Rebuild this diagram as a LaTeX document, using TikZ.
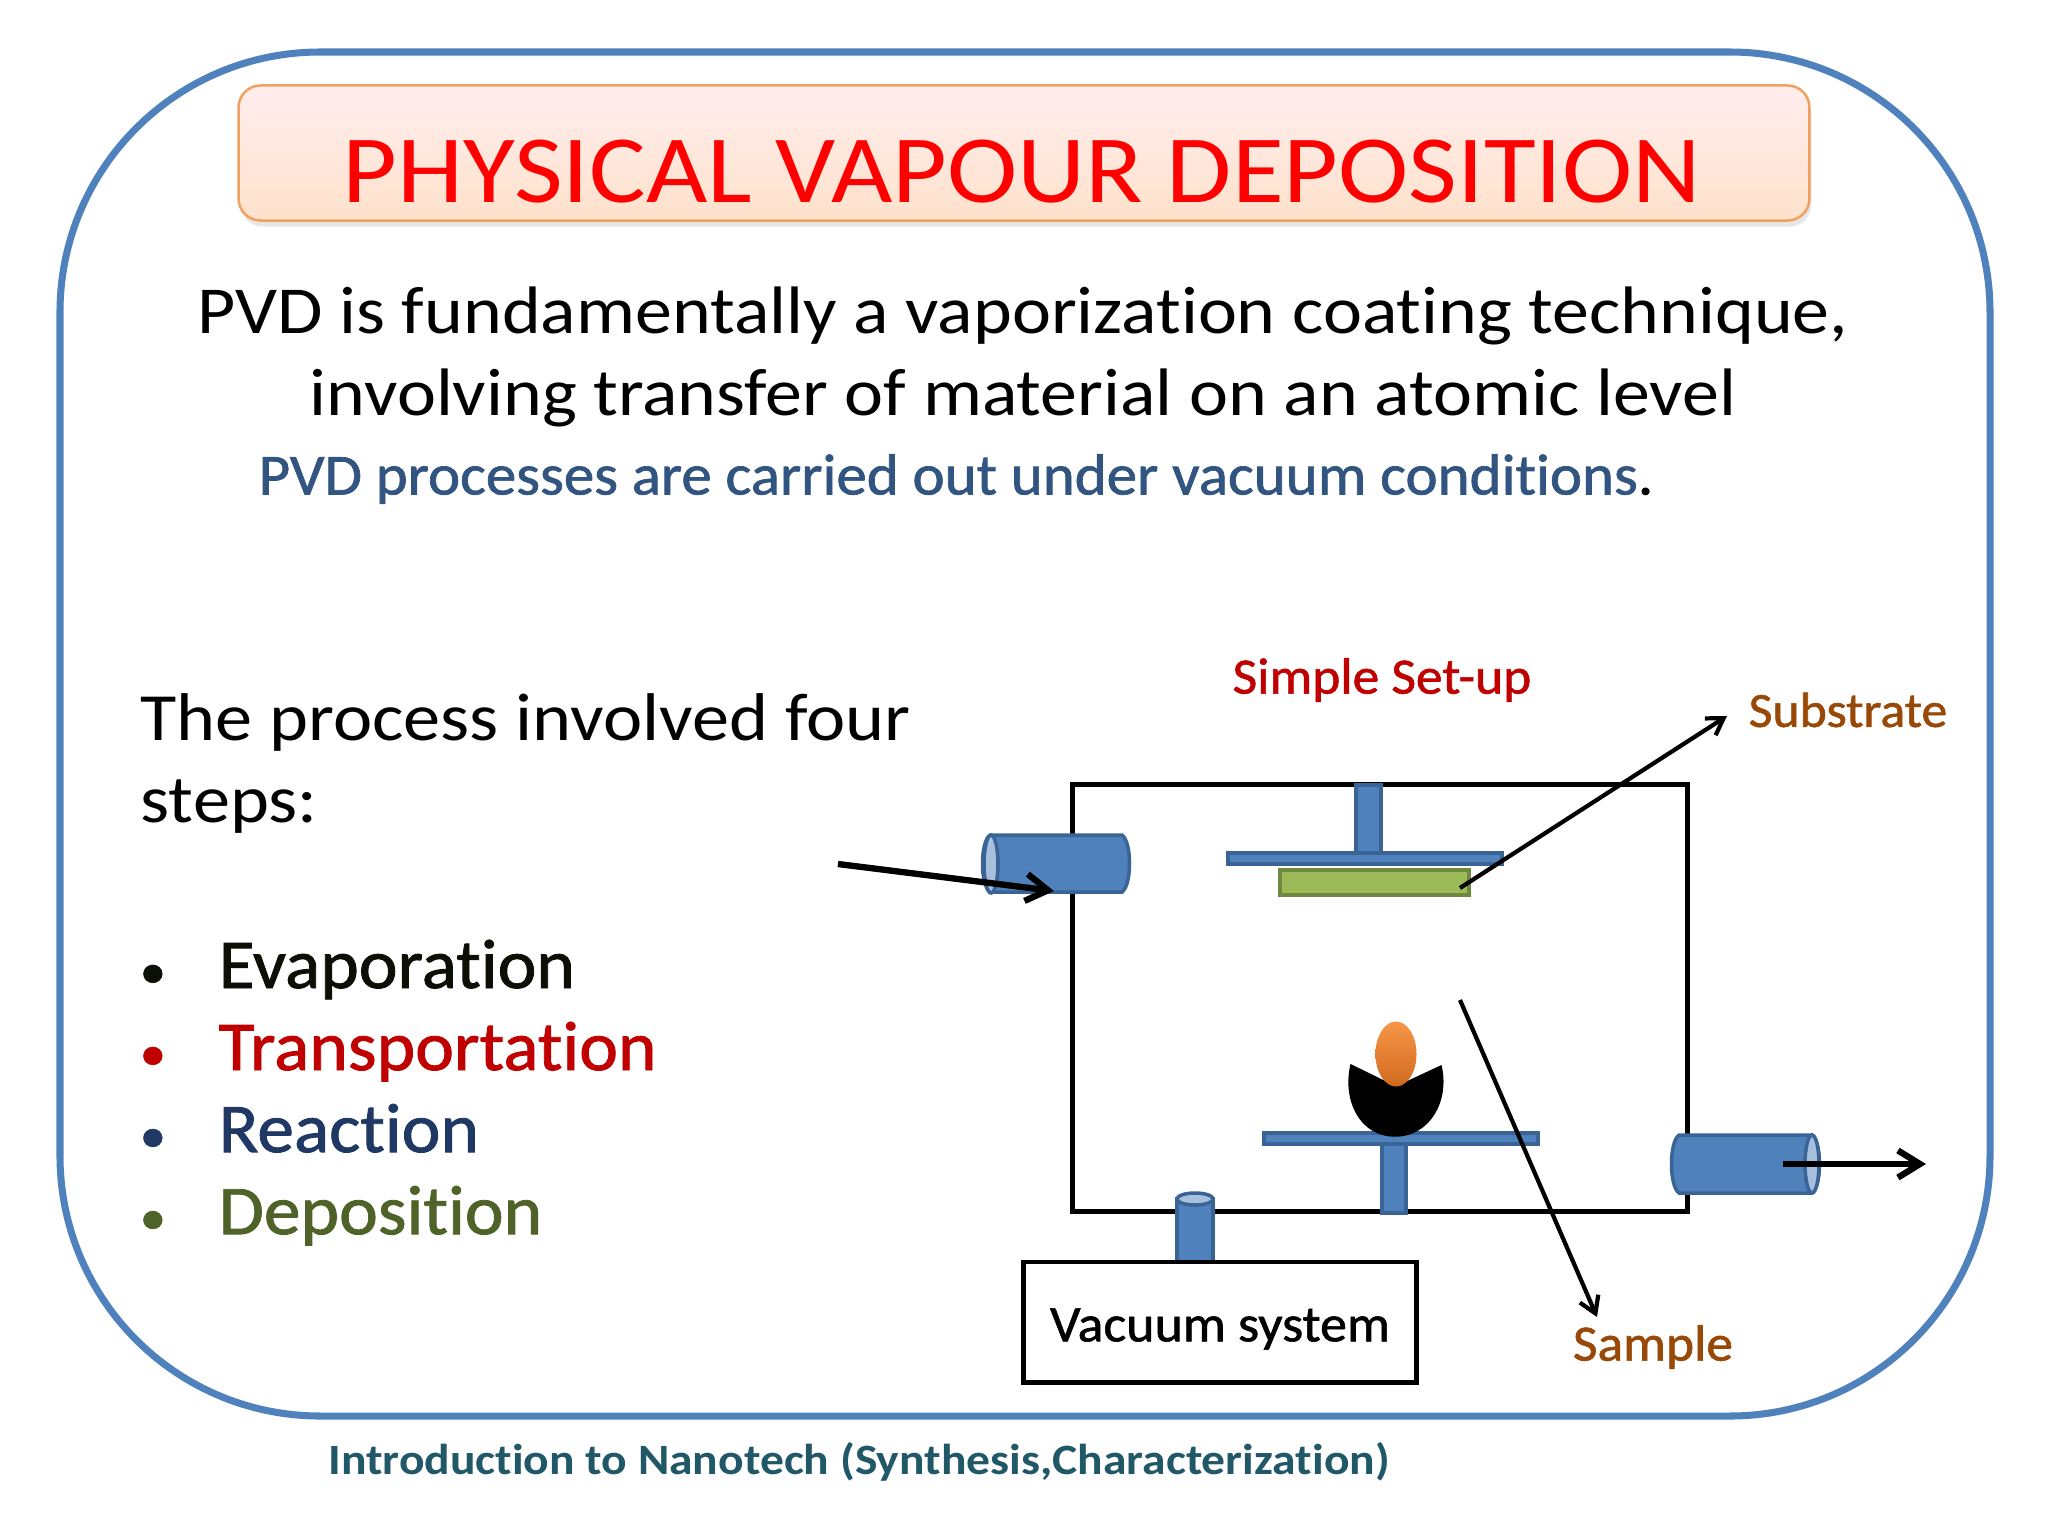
\documentclass[tikz,border=0pt]{standalone}
\usepackage{fontspec}
\setmainfont{Carlito}[FakeStretch=1.1,Ligatures=NoCommon]
\newfontfamily\heavyfont{Carlito}[FakeStretch=1.05,FakeBold=1.2,Ligatures=NoCommon]
\usepackage{graphicx}
\usetikzlibrary{shadows,arrows.meta,shapes.geometric}
\definecolor{frameblue}{HTML}{4F81BD}
\definecolor{edgeblue}{HTML}{3A6496}
\definecolor{lightend}{HTML}{A7C0DE}
\definecolor{leaf}{HTML}{9BBB59}
\definecolor{leafedge}{HTML}{71893F}
\definecolor{brownlabel}{HTML}{984807}
\definecolor{redlabel}{HTML}{C00000}
\definecolor{navy}{HTML}{1F3864}
\definecolor{olive}{HTML}{4F6228}
\definecolor{teal}{HTML}{215868}
\definecolor{flametop}{HTML}{F79646}
\definecolor{flamebottom}{HTML}{D0691F}
\definecolor{titleedge}{HTML}{F0A060}
\newcommand{\stepdot}{\makebox[0.79cm][l]{\scalebox{.72}{\textbullet}}}
\tikzset{
  plate/.style={fill=frameblue, draw=edgeblue, line width=1pt},
  thinarrow/.style={-{Straight Barb[length=1.6mm,width=2mm]}, line width=1.2pt},
  fatarrow/.style={-{Straight Barb[length=2.2mm,width=2.7mm]}, line width=1.8pt},
  steptext/.style={anchor=base west, inner sep=0pt, font=\heavyfont\fontsize{19.9}{24}\selectfont},
  partlabel/.style={inner sep=0pt, font=\heavyfont\fontsize{14.5}{17}\selectfont},
}
\begin{document}
\begin{tikzpicture}[x=0.01cm, y=-0.01cm]
\useasboundingbox (0,0) rectangle (2048,1536);
\draw[frameblue, line width=2pt, rounded corners=2.6cm] (60,52) rectangle (1990,1416);
\node[draw=titleedge, line width=0.7pt, rounded corners=0.22cm, top color=red!7, bottom color=red!15!orange!20,
  drop shadow={opacity=0.2, shadow xshift=0.2mm, shadow yshift=-0.6mm},
  minimum width=15.7cm, minimum height=1.35cm, inner sep=0pt] (title) at (1024,153) {};
\node[text=red, font=\fontsize{27.4}{30}\selectfont, inner sep=0pt] (titletext) at (1022,172) {PHYSICAL VAPOUR DEPOSITION};
\node[align=center, inner sep=0pt, font=\fontsize{19.1}{23.3}\selectfont] (intro) at (1023,357)
  {PVD is fundamentally a vaporization coating technique,\\involving transfer of material on an atomic level};
\node[inner sep=0pt, font=\heavyfont\fontsize{16.5}{20}\selectfont, text=edgeblue!85!black] (vacuum) at (956,479) {PVD processes are carried out under vacuum conditions\textcolor{black}{.}};
\node[anchor=north west, align=left, inner sep=0pt, font=\fontsize{19.2}{23.3}\selectfont] (process) at (140,693)
  {The process involved four\\steps:};
\node[steptext, text=black!85!olive] (evap) at (139,988) {\stepdot Evaporation};
\node[steptext, text=redlabel] (trans) at ([yshift=-0.82cm] evap.base west) {\stepdot Transportation};
\node[steptext, text=navy] (react) at ([yshift=-0.82cm] trans.base west) {\stepdot Reaction};
\node[steptext, text=olive] (depo) at ([yshift=-0.82cm] react.base west) {\stepdot Deposition};
\node[partlabel, text=redlabel] (setup) at (1382,680) {Simple Set-up};
\node[partlabel, text=brownlabel, font=\heavyfont\fontsize{14}{17}\selectfont] (substrate) at (1848,710) {Substrate};
\node[partlabel, text=brownlabel] (sample) at (1653,1347) {Sample};
\node[draw, line width=1.4pt, minimum width=6.15cm, minimum height=4.26cm, inner sep=0pt] (chamber) at (1380,998) {};
\draw[plate] (1356,785) rectangle (1381,853);
\draw[plate] (1228,853) rectangle (1502,864);
\draw[fill=leaf, draw=leafedge, line width=1pt] (1280,870) rectangle (1469,895);
\coordinate (greenend) at (1460,888);
\draw[plate] (1264,1133) rectangle (1538,1144);
\draw[plate] (1382,1144) rectangle (1406,1213);
\draw[fill=black] (1351,1065) -- (1396,1087) -- (1441,1066) .. controls (1449,1100) and (1430,1136) .. (1395,1136)
  .. controls (1360,1136) and (1343,1100) .. (1351,1065) -- cycle;
\node[ellipse, top color=flametop, bottom color=flamebottom, minimum width=0.41cm, minimum height=0.65cm, inner sep=0pt] (source) at (1396,1054) {};
\draw[plate] (990,835) -- (1122,835) .. controls (1132,842) and (1132,885) .. (1122,892) -- (990,892)
  .. controls (980,885) and (980,842) .. (990,835) -- cycle;
\draw[plate, fill=lightend] (991,864) ellipse (7 and 29);
\draw[plate] (1679,1135) -- (1812,1135) .. controls (1822,1142) and (1822,1186) .. (1812,1193) -- (1679,1193)
  .. controls (1669,1186) and (1669,1142) .. (1679,1135) -- cycle;
\draw[plate, fill=lightend] (1812,1164) ellipse (7 and 29);
\draw[plate] (1177,1199) rectangle (1213,1262);
\draw[plate, fill=lightend] (1195,1199) ellipse (18 and 6);
\node[draw, line width=1.4pt, fill=white, minimum width=3.93cm, minimum height=1.2cm, inner sep=0pt] (vacbox) at (1220,1322) {};
\node[partlabel, font=\heavyfont\fontsize{14.6}{17}\selectfont] (vactext) at (1220,1329) {Vacuum system};
\coordinate (inarrow) at (838,864);
\coordinate (intip) at (1054,891);
\coordinate (outstart) at (1783,1164);
\coordinate (outtip) at (1926,1164);
\coordinate (samplestart) at (1460,1000);
\coordinate (sampletip) at (1597,1317);
\coordinate (substratetip) at (1727,716);
\draw[fatarrow] (inarrow) -- (intip);
\draw[fatarrow] (outstart) -- (outtip);
\draw[thinarrow] (greenend) -- (substratetip);
\draw[thinarrow] (samplestart) -- (sampletip);
\node[text=teal, inner sep=0pt, font=\bfseries\fontsize{12.3}{14}\selectfont] (footer) at (859,1462) {Introduction to Nanotech (Synthesis,Characterization)};
\end{tikzpicture}
\end{document}
